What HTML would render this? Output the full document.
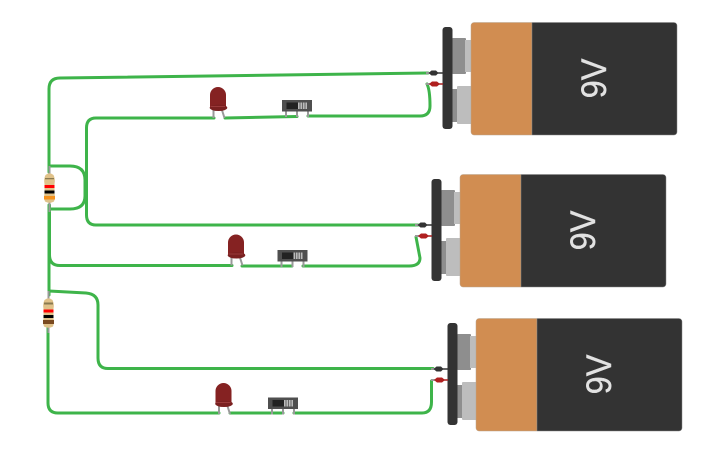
<!DOCTYPE html>
<html><head><meta charset="utf-8"><style>
html,body{margin:0;padding:0;background:#fff}
svg{display:block}
text{font-family:"Liberation Sans",sans-serif}
</style></head><body>
<svg width="725" height="453" viewBox="0 0 725 453" xmlns="http://www.w3.org/2000/svg">
<defs>
<g id="bat">
<rect x="452" y="38" width="14" height="36" rx="1" fill="#8e8e8e"/>
<rect x="465" y="40" width="7" height="32" fill="#bdbdbd"/>
<rect x="452" y="89" width="6" height="33" fill="#8e8e8e"/>
<rect x="457" y="86" width="15" height="38" rx="1" fill="#bdbdbd"/>
<rect x="442.500" y="27" width="10" height="102" rx="3" fill="#333"/>
<path d="M474 22.500H532V135H474a3 3 0 0 1-3-3V25.500a3 3 0 0 1 3-3z" fill="#d18d51" stroke="#b9a58f" stroke-width=".5"/>
<path d="M532 22.500H674a3 3 0 0 1 3 3V132a3 3 0 0 1-3 3H532z" fill="#333" stroke="#888" stroke-width=".5"/>
<text transform="translate(606,78.500) rotate(-90) scale(.93,1)" text-anchor="middle" font-size="35" fill="#e2e2e2" stroke="#e2e2e2" stroke-width=".4">9V</text>
<path d="M436 73H443" stroke="#333" stroke-width="1.500"/>
<path d="M437 84H443" stroke="#a52020" stroke-width="1.500"/>
<path d="M426 73H430" stroke="#999" stroke-width="2"/>
<path d="M426 84H430" stroke="#999" stroke-width="2"/>
<path d="M428.500 73L431.500 70.500H436L438.500 73L436 75.500H431.500z" fill="#333"/>
<path d="M429 84L432 81.500H437L440 84L437 86.500H432z" fill="#b01f1f"/>
</g>
<g id="led">
<path d="M-4.500 20V31M3 20L6.500 31" stroke="#999" stroke-width="2" fill="none"/>
<path d="M-8 20V8a8 8 0 0 1 16 0V20z" fill="#852222"/>
<ellipse cx="0.500" cy="20.800" rx="8.800" ry="3.200" fill="#7a2020"/>
<path d="M-7.500 19.500H7" stroke="#9a3a3a" stroke-width="1"/>
</g>
<g id="sw">
<path d="M4 10V17M15 10V17M26 10V17" stroke="#999" stroke-width="2"/>
<rect x="0" y="0" width="30" height="11.500" fill="#4f4f4f"/>
<rect x="4.500" y="2.500" width="20.500" height="6.500" fill="#222"/>
<rect x="16" y="2.500" width="9" height="6.500" fill="#bbb"/>
<path d="M18 2.500V9M20.500 2.500V9M23 2.500V9" stroke="#666" stroke-width="1"/>
</g>
</defs>

<g fill="none" stroke="#3eb44a" stroke-width="3" stroke-linecap="round" stroke-linejoin="round">
<path d="M428 73L60 78Q49 78 49 89V172"/>
<path d="M427 84Q430 90 430 106Q430 116 420 116L308 116"/>
<path d="M297 116.500L225 118"/>
<path d="M214 118H96Q86.500 118 86.500 128V215Q86.500 225 96 225H418"/>
<path d="M50 166H70Q85 166 85 180V196Q85 209 70 209H50"/>
<path d="M49.500 205V255Q49.500 265.500 60 265.500H232"/>
<path d="M242 266L292 266"/>
<path d="M303 266H409Q420 266 420 258L416 237"/>
<path d="M49 205V295"/>
<path d="M49 291L86 293Q98 294 98 305V358Q98 368.500 108 368.500H433"/>
<path d="M48 325V403Q48 413 58 413H219"/>
<path d="M230 413H283"/>
<path d="M294 413H422Q431.500 413 431.500 402V381"/>
</g>

<use href="#bat"/>
<use href="#bat" transform="translate(-11,152)"/>
<use href="#bat" transform="translate(5,296)"/>

<use href="#led" transform="translate(218,87)"/>
<use href="#led" transform="translate(236,234.500)"/>
<use href="#led" transform="translate(223.500,383)"/>
<use href="#sw" transform="translate(282,100)"/>
<use href="#sw" transform="translate(277.500,250)"/>
<use href="#sw" transform="translate(268,397.500)"/>

<g>
<path d="M49.500 166V212" stroke="#999" stroke-width="2"/>
<path d="M45.500 175Q49.500 171.500 53.500 175Q55.500 179 54.500 184V193Q55.500 198 54 201.500Q49.500 204 45 201.500Q43.500 198 44.500 193V184Q43.500 179 45.500 175z" fill="#e0c28a"/>
<rect x="45" y="178" width="9" height="1.300" fill="#8a7a50"/>
<rect x="44.500" y="185" width="10" height="3" fill="#f00"/>
<rect x="44.500" y="190.500" width="10" height="3" fill="#000"/>
<rect x="44" y="196" width="11" height="3.500" fill="#f5921e"/>
</g>
<g>
<path d="M48.500 291V333" stroke="#999" stroke-width="2"/>
<path d="M44.500 300Q48.500 296.500 52.500 300Q54.500 304 53.500 309V318Q54.500 323 53 326.500Q48.500 329 44 326.500Q42.500 323 43.500 318V309Q42.500 304 44.500 300z" fill="#e0c28a"/>
<rect x="44" y="302.500" width="9" height="2" fill="#8a7a50"/>
<rect x="43.500" y="309.500" width="10" height="3" fill="#f00"/>
<rect x="43.500" y="315" width="10" height="3" fill="#000"/>
<rect x="43" y="320" width="11" height="4" fill="#7a4a20"/>
</g>
</svg>
</body></html>
